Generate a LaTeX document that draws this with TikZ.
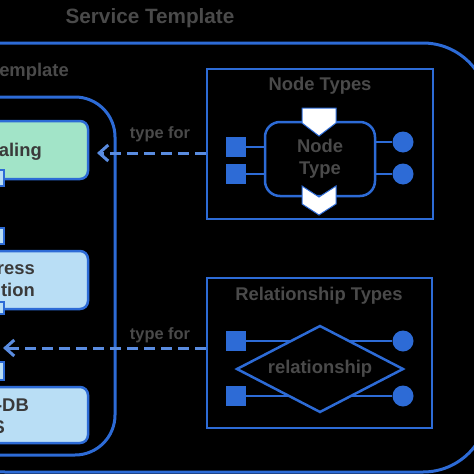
\documentclass[tikz,border=0pt]{standalone}
\usepackage{fontspec}
\setmainfont{Liberation Sans}
\usepackage{xcolor}
\usetikzlibrary{shapes.geometric,arrows.meta,positioning}
\definecolor{tblue}{HTML}{2D6BD6}
\definecolor{dashblue}{HTML}{5A8CE0}
\definecolor{lblgray}{HTML}{4A4A4A}
\definecolor{txtgray}{HTML}{3A3A3A}
\definecolor{mint}{HTML}{A2E4C8}
\definecolor{skyfill}{HTML}{B9DEF5}

\begin{document}
\begin{tikzpicture}[x=1pt, y=-1pt,
  tmplbox/.style={rectangle, draw=tblue, line width=3pt, inner sep=0pt},
  comp/.style={rectangle, rounded corners=8pt, draw=tblue, line width=2.5pt,
               minimum width=148pt, minimum height=58pt, inner sep=0pt},
  heading/.style={font=\bfseries\fontsize{18.4}{22}\selectfont, text=lblgray, inner sep=0pt},
  comptext/.style={font=\bfseries\fontsize{18.4}{22}\selectfont, text=txtgray,
                   inner sep=0pt, anchor=east, align=right},
  typelabel/.style={font=\bfseries\fontsize{16.4}{19}\selectfont, text=lblgray, inner sep=0pt},
  reqsq/.style={rectangle, fill=tblue, minimum size=20pt, inner sep=0pt},
  capdot/.style={circle, fill=tblue, minimum size=21pt, inner sep=0pt},
  portline/.style={draw=tblue, line width=1.5pt},
  stub/.style={rectangle, fill=skyfill, draw=tblue, line width=2pt,
               minimum width=14pt, minimum height=16pt, inner sep=0pt},
  typefor/.style={draw=dashblue, line width=3pt, dash pattern=on 11pt off 6pt,
                  -{Straight Barb[length=9pt,width=16pt]}},
  iconshape/.style={fill=white, draw=tblue, line width=1pt}
]

% view
\useasboundingbox (0,0) rectangle (474,474);
\clip (0,0) rectangle (474,474);
\fill[black] (0,0) rectangle (474,474);

% Service Template
\node[tmplbox, rounded corners=65pt, minimum width=548pt, minimum height=429pt] (svc) at (214,257.5) {};
\node[heading, font=\bfseries\fontsize{20.7}{24}\selectfont] (svctitle) at (150,18) {Service Template};

% Topology Template
\node[tmplbox, rounded corners=40pt, minimum width=175pt, minimum height=358pt] (topo) at (27.5,276) {};
\node[heading, anchor=east] (topotitle) at (69,72) {emplate};

% components
\node[comp, fill=mint] (scaling) at (14,150) {};
\node[comptext] (scalingtxt) at (42,152) {aling};
\node[comp, fill=skyfill] (ingress) at (14,280) {};
\node[comptext] (ingresstxt) at (35,281) {ress\\tion};
\node[comp, fill=skyfill, minimum height=56pt] (mongo) at (14,415) {};
\node[comptext] (mongotxt) at (29,405) {-DB};
\node[comptext] (mongotxtb) at (5,427) {S};

% stubs
\node[stub] (req1) at (-3,178) {};
\node[stub] (cap2) at (-3,236) {};
\node[stub, minimum height=12pt] (req2) at (-3,308) {};
\node[stub, minimum height=18pt] (cap3) at (-3,371) {};

% Node Types
\node[tmplbox, line width=2.5pt, minimum width=226pt, minimum height=150pt] (ntbox) at (320,144) {};
\node[heading] (nttitle) at (320,86) {Node Types};
\node[heading, rectangle, rounded corners=15pt, draw=tblue, line width=2.5pt,
      minimum width=110pt, minimum height=74pt, align=center] (ntype) at (320,159) {Node\\Type};
\node[reqsq] (nreq1) at (236,147) {};
\node[reqsq] (nreq2) at (236,174) {};
\node[capdot] (ncap1) at (403,142) {};
\node[capdot] (ncap2) at (403,174) {};
\draw[portline] (nreq1) -- (ntype.west |- nreq1);
\draw[portline] (nreq2) -- (ntype.west |- nreq2);
\draw[portline] (ncap1) -- (ntype.east |- ncap1);
\draw[portline] (ncap2) -- (ntype.east |- ncap2);
\draw[iconshape] (302,108) -- (336,108) -- (336,123) -- (319,136) -- (302,123) -- cycle;
\draw[iconshape] (302,186) -- (319,197) -- (336,186) -- (336,204) -- (319,215) -- (302,204) -- cycle;

% Relationship Types
\node[tmplbox, line width=2.5pt, minimum width=225pt, minimum height=150pt] (rtbox) at (319.5,353) {};
\node[heading] (rttitle) at (319,296) {Relationship Types};
\node[reqsq] (rreq1) at (236,341) {};
\node[reqsq] (rreq2) at (236,396) {};
\node[capdot] (rcap1) at (403,341) {};
\node[capdot] (rcap2) at (403,396) {};
\draw[portline] (rreq1) -- (rcap1);
\draw[portline] (rreq2) -- (rcap2);
\node[heading, diamond, aspect=2, draw=tblue, line width=2.5pt, fill=black,
      minimum width=167pt, minimum height=87pt] (rel) at (320,369) {relationship};

% type for
\coordinate (tip1) at (97,153);
\coordinate (tip2) at (3,348);
\draw[typefor] (ntbox.west |- tip1) -- (tip1);
\node[typelabel] (tf1) at (160,134) {type for};
\draw[typefor] (rtbox.west |- tip2) -- (tip2);
\node[typelabel] (tf2) at (160,335) {type for};

\end{tikzpicture}
\end{document}
